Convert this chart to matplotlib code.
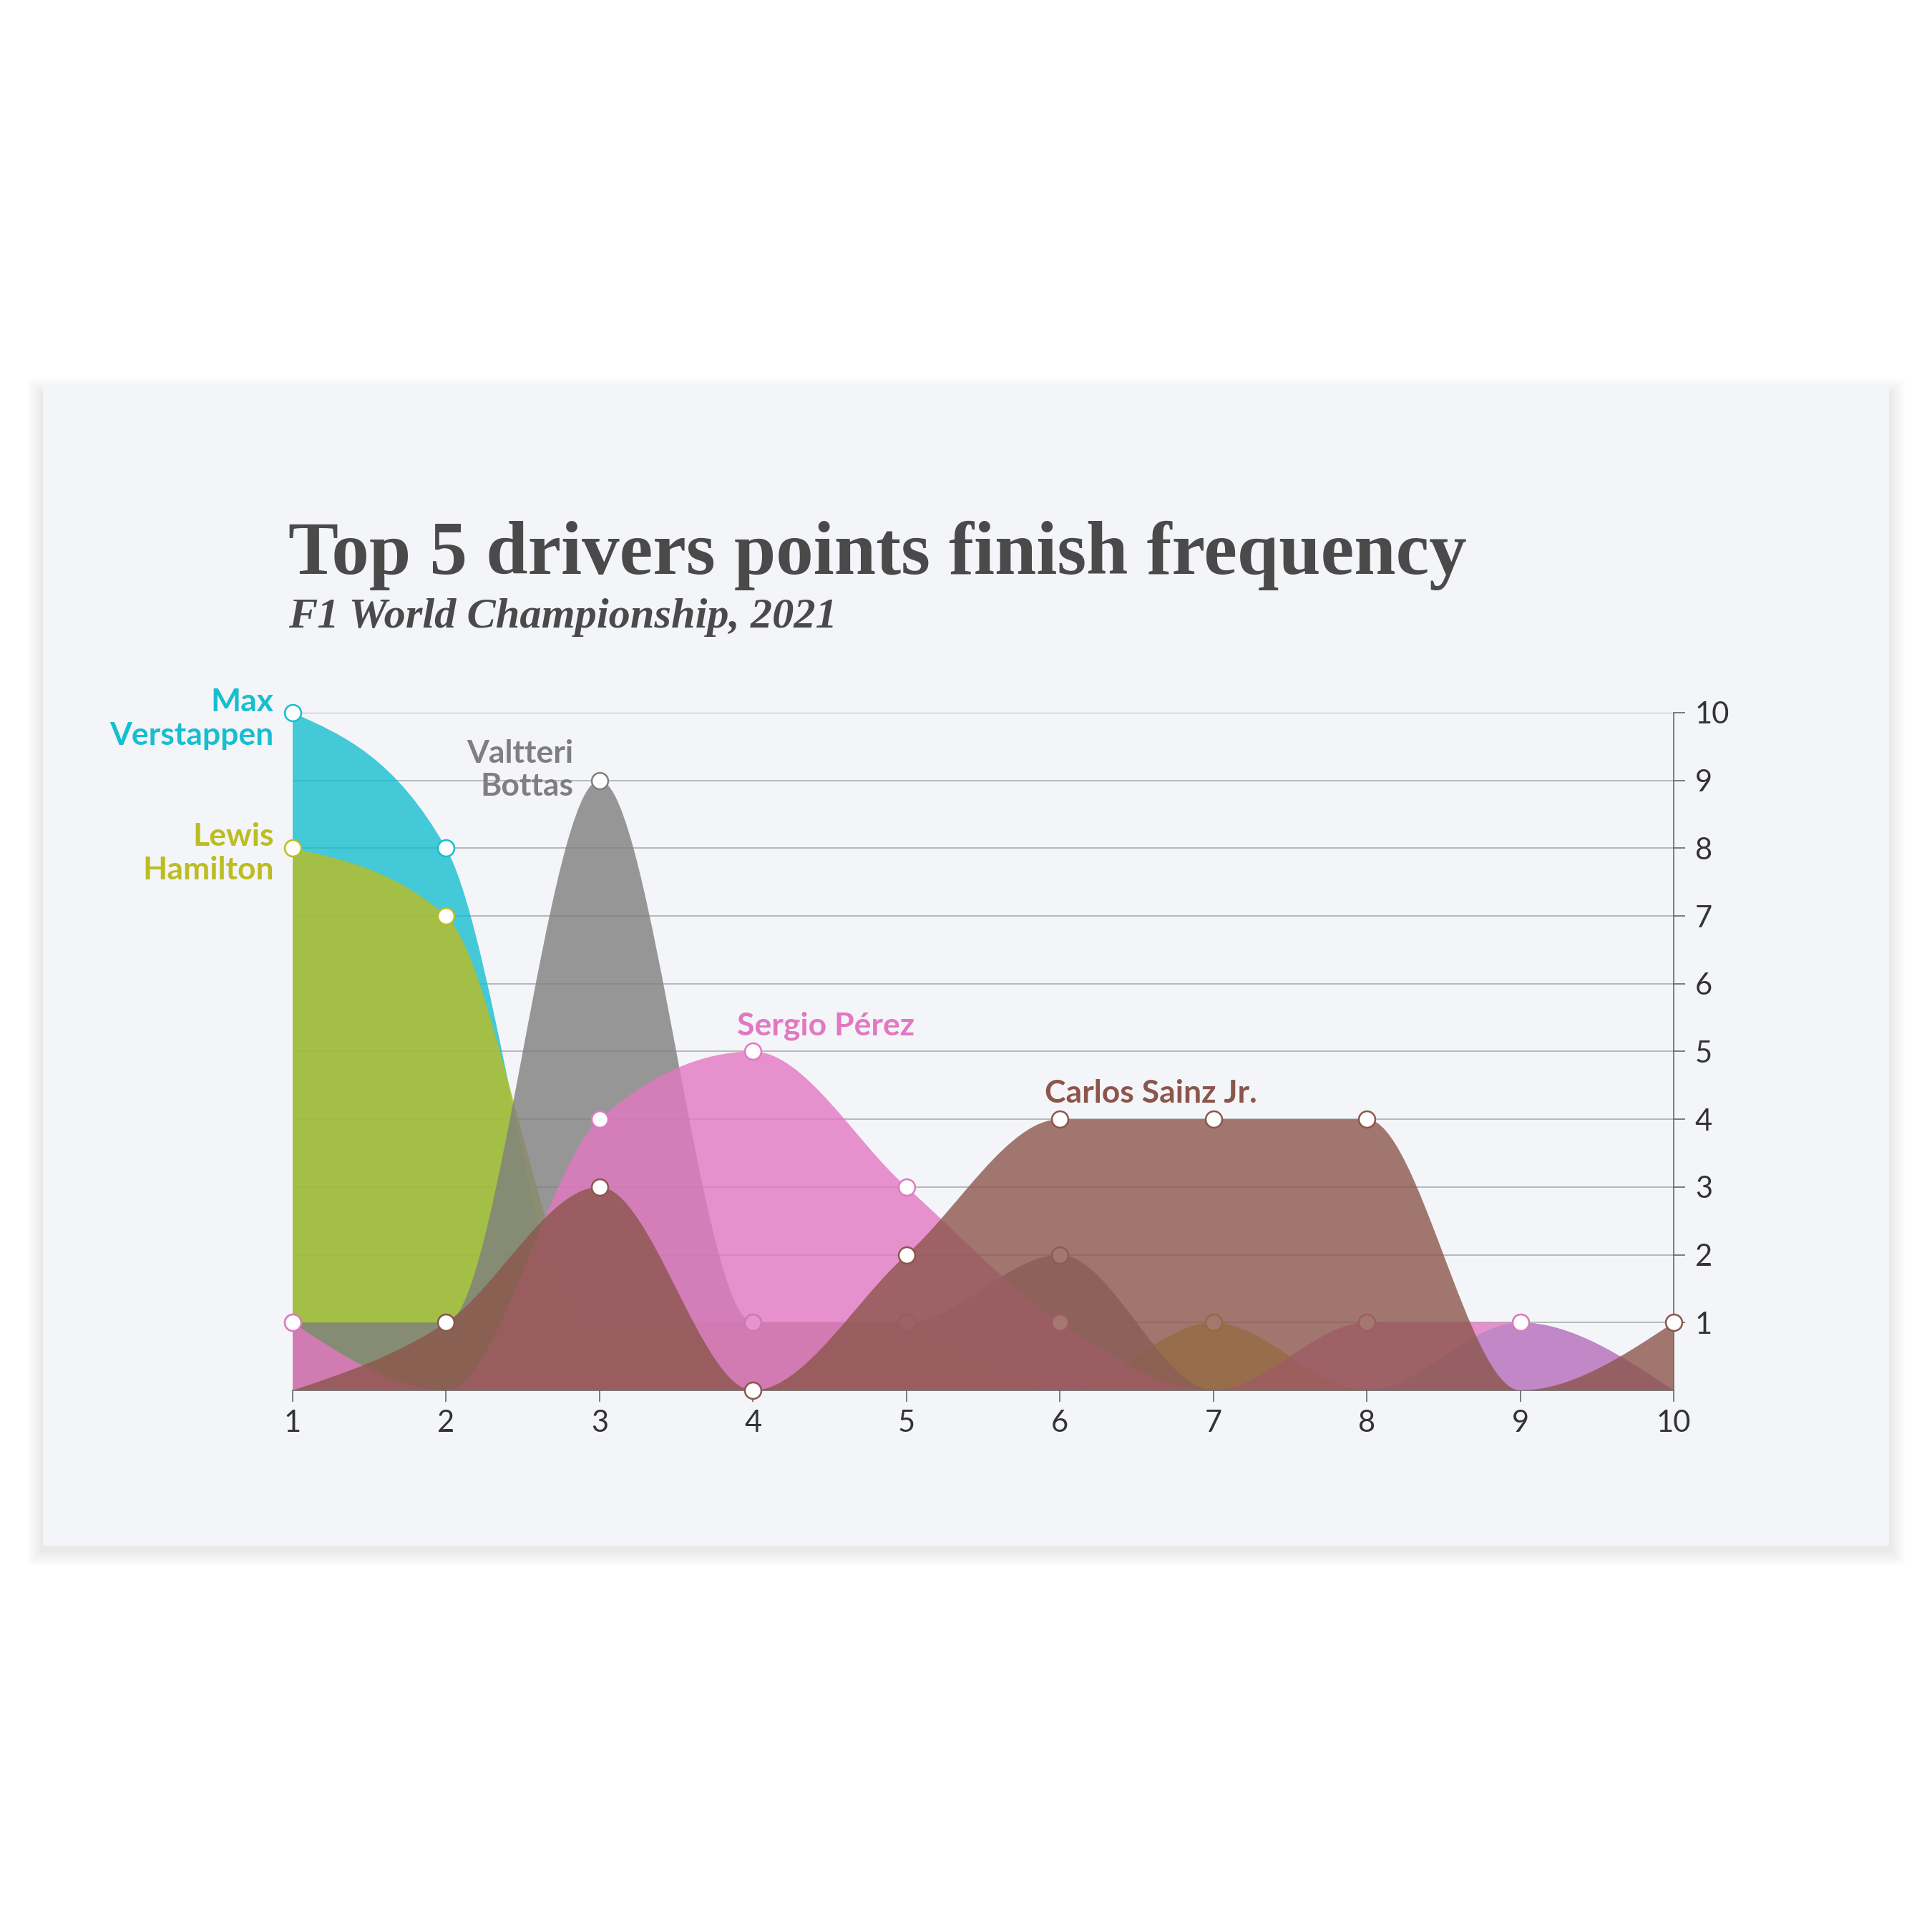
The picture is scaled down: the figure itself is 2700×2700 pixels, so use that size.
import numpy as np
import matplotlib
matplotlib.use("Agg")
import matplotlib.pyplot as plt
from matplotlib.path import Path
from matplotlib.patches import PathPatch, Rectangle

# finishing positions and how often each driver finished there (2021)
positions = list(range(1, 11))
drivers = ["Max\nVerstappen", "Lewis\nHamilton", "Valtteri\nBottas", "Sergio Pérez", "Carlos Sainz Jr."]
verstappen = [10, 8, 0, 0, 0, 0, 0, 0, 1, 0]
hamilton = [8, 7, 1, 1, 1, 0, 1, 0, 0, 0]
bottas = [1, 1, 9, 1, 1, 2, 0, 0, 0, 0]
perez = [1, 0, 4, 5, 3, 1, 0, 1, 1, 0]
sainz = [0, 1, 3, 0, 2, 4, 4, 4, 0, 1]
series = [verstappen, hamilton, bottas, perez, sainz]
colors = ["#17becf", "#bcbd22", "#7f7f7f", "#e377c2", "#8c564b"]
# zero-count points that still carry a marker in the original
extra_markers = {4: [4]}

# label placement: (anchor x, baseline of first line, horizontal alignment)
label_pos = [
    (0.878, 10.08, "right"),
    (0.878, 8.09, "right"),
    (2.832, 9.32, "right"),
    (3.898, 5.24, "left"),
    (5.899, 4.24, "left"),
]

W = H = 2700
DPI = 100
BG = "#f4f5f9"
TEXT = "#4a4a4a"


def monotone_area(x, y):
    """Closed area path using the monotone-x cubic (same as d3.curveMonotoneX)."""
    x = np.asarray(x, float)
    y = np.asarray(y, float)
    h = np.diff(x)
    s = np.diff(y) / h
    n = len(x)
    t = np.zeros(n)
    for i in range(1, n - 1):
        p = (s[i - 1] * h[i] + s[i] * h[i - 1]) / (h[i - 1] + h[i])
        t[i] = (np.sign(s[i - 1]) + np.sign(s[i])) * min(abs(s[i - 1]), abs(s[i]), 0.5 * abs(p))
    t[0] = (3 * s[0] - t[1]) / 2
    t[-1] = (3 * s[-1] - t[-2]) / 2

    verts = [(x[0], 0), (x[0], y[0])]
    codes = [Path.MOVETO, Path.LINETO]
    for i in range(n - 1):
        d = h[i] / 3
        verts += [(x[i] + d, y[i] + d * t[i]), (x[i + 1] - d, y[i + 1] - d * t[i + 1]), (x[i + 1], y[i + 1])]
        codes += [Path.CURVE4] * 3
    verts += [(x[-1], 0), (x[0], 0)]
    codes += [Path.LINETO, Path.CLOSEPOLY]
    return Path(verts, codes)


fig = plt.figure(figsize=(W / DPI, H / DPI), dpi=DPI, facecolor="#ffffff")

# card with a soft shadow (slightly lower than the card)
cx0, cy0, cx1, cy1 = 60, 539, 2640, 2160
for k in range(22, 0, -2):
    fig.patches.append(Rectangle(((cx0 - k) / W, 1 - (cy1 + k + 6) / H),
                                 (cx1 - cx0 + 2 * k) / W, (cy1 - cy0 + 2 * k - 6) / H,
                                 transform=fig.transFigure, facecolor="#000000",
                                 edgecolor="none", alpha=0.006, zorder=-3))
fig.patches.append(Rectangle((cx0 / W, 1 - cy1 / H), (cx1 - cx0) / W, (cy1 - cy0) / H,
                             transform=fig.transFigure, facecolor=BG, edgecolor="none", zorder=-2))

# plot area: x=1 at px 409, x=10 at px 2339, y=0 at px 1943, y=10 at px 996
ax = fig.add_axes([409 / W, 1 - 1943 / H, (2339 - 409) / W, (1943 - 996) / H])
ax.set_zorder(1)
ax.patch.set_alpha(0)
ax.set_xlim(1, 10)
ax.set_ylim(0, 10)

for i, (vals, col) in enumerate(zip(series, colors)):
    ax.add_patch(PathPatch(monotone_area(positions, vals), facecolor=col, edgecolor="none",
                           alpha=0.8, zorder=3 + 2 * i))
    mx = [p for p, v in zip(positions, vals) if v > 0] + extra_markers.get(i, [])
    my = [vals[p - 1] for p in mx]
    ax.plot(mx, my, "o", ms=16.5, mfc="white", mec=col, mew=1.8, zorder=4 + 2 * i, clip_on=False)

for name, col, (lx, ly, ha) in zip(drivers, colors, label_pos):
    ax.text(lx, ly, name, color=col, ha=ha, va="baseline", fontsize=32,
            fontfamily="Lato", fontweight="bold", linespacing=1.2,
            multialignment=ha, zorder=20, clip_on=False)
# two-line labels: matplotlib puts the last line on the baseline, so shift them down one line
for t in ax.texts:
    if "\n" in t.get_text():
        x, y = t.get_position()
        t.set_position((x, y - 0.55))

ax.set_xticks(positions)
ax.set_yticks(range(1, 11))
ax.yaxis.tick_right()
ax.yaxis.grid(True, color="#a8a8a8", linewidth=1.1)
ax.set_axisbelow(True)
for side in ["left", "top"]:
    ax.spines[side].set_visible(False)
for side in ["right", "bottom"]:
    ax.spines[side].set_color("#5a5a5a")
    ax.spines[side].set_linewidth(1.1)
ax.tick_params(axis="both", length=11.5, width=1.1, color="#5a5a5a", labelsize=30,
               labelcolor="#333333")
ax.tick_params(axis="y", pad=10, left=False, right=True)
ax.tick_params(axis="x", pad=8)
for lab in ax.get_xticklabels() + ax.get_yticklabels():
    lab.set_fontfamily("Lato")

fig.text(403 / W, 1 - 802 / H, "Top 5 drivers points finish frequency", fontsize=75.5,
         fontfamily="Liberation Serif", fontweight="bold", color=TEXT, va="baseline")
fig.text(403 / W, 1 - 877 / H, "F1 World Championship, 2021", fontsize=43.5,
         fontfamily="Liberation Serif", fontweight="bold", fontstyle="italic",
         color=TEXT, va="baseline")

fig.savefig("out.png", dpi=DPI, facecolor=fig.get_facecolor())
